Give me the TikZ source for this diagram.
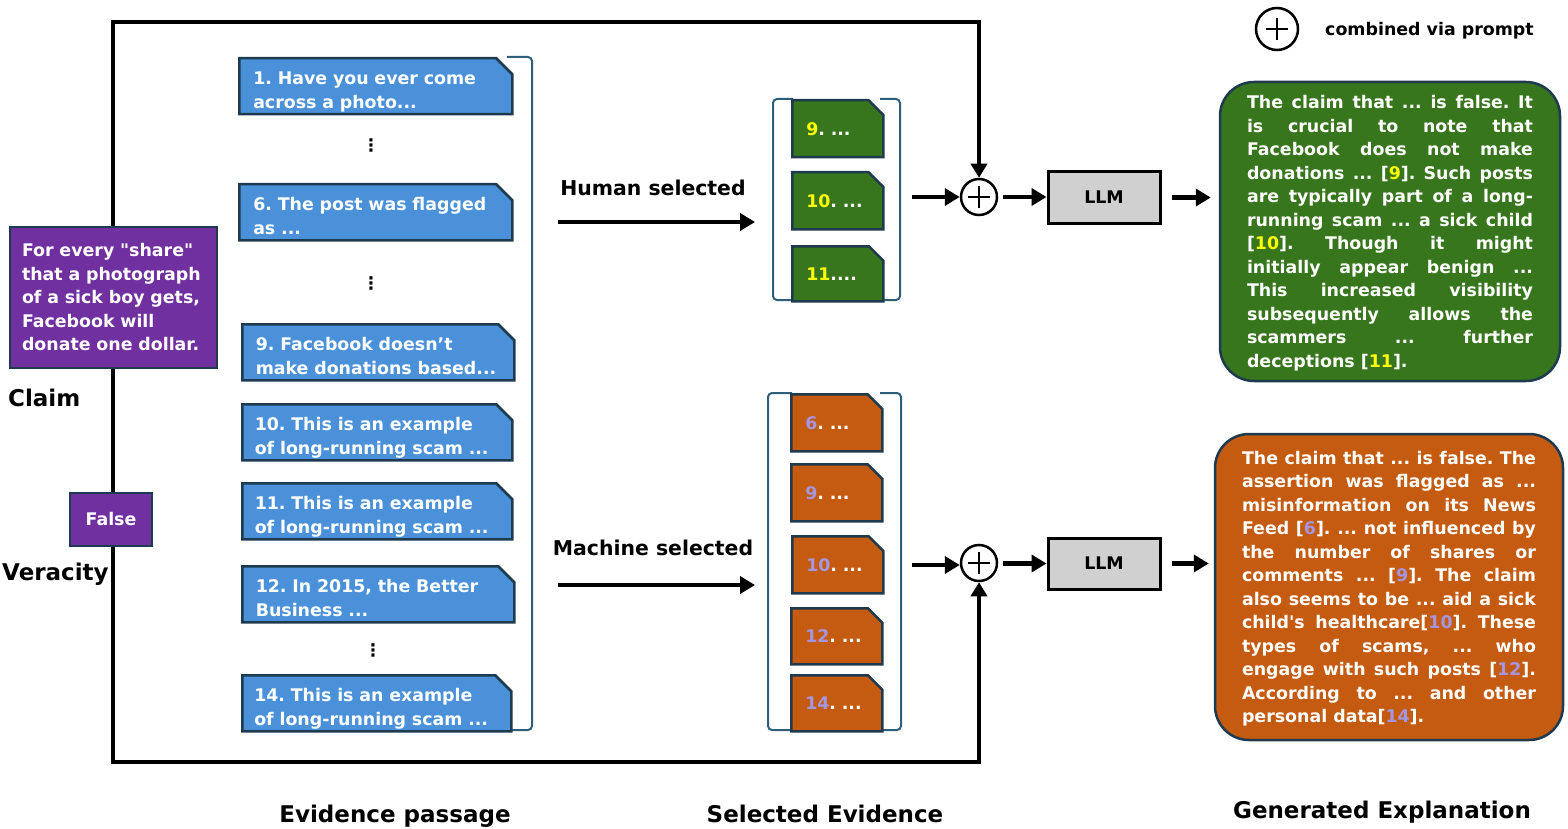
\documentclass[tikz,border=0pt]{standalone}
\usepackage{fontspec}
\setmainfont{DejaVu Sans}
\usetikzlibrary{arrows.meta,shapes.misc,positioning}

\definecolor{evblue}{RGB}{75,145,218}
\definecolor{edgedark}{RGB}{30,58,78}
\definecolor{brkblue}{RGB}{45,95,125}
\definecolor{hgreen}{RGB}{56,118,29}
\definecolor{morange}{RGB}{197,90,17}
\definecolor{claimpurple}{RGB}{112,48,160}
\definecolor{llmgray}{RGB}{208,208,208}
\definecolor{numyellow}{RGB}{255,255,0}
\definecolor{numlav}{RGB}{165,150,225}

\newcommand{\boxfont}{\fontsize{17.4pt}{23.5pt}\selectfont\bfseries}
\newcommand{\selfont}{\fontsize{20.4pt}{24pt}\selectfont\bfseries}
\newcommand{\capfont}{\fontsize{23pt}{27pt}\selectfont\bfseries}
\newcommand{\yn}[1]{\textcolor{numyellow}{#1}}
\newcommand{\lv}[1]{\textcolor{numlav}{#1}}
\newcommand{\jbreak}{\linebreak[4]}
\newcommand{\topstrut}[1]{\rule{0pt}{#1}}

\begin{document}
\begin{tikzpicture}[x=1pt,y=-1pt,
    every node/.style={font=\boxfont},
    passage/.style={chamfered rectangle, chamfered rectangle corners=north east,
      chamfered rectangle sep=8pt, fill=evblue, draw=edgedark, line width=2.5pt,
      text=white, align=left, text width=245pt, inner xsep=4pt, inner ysep=0pt,
      text height=18.5pt, text depth=21.5pt, minimum height=56pt, anchor=north west},
    chosen/.style={chamfered rectangle, chamfered rectangle corners=north east,
      chamfered rectangle sep=8pt, draw=edgedark, line width=2.5pt,
      text=white, align=left, text width=63pt, inner xsep=2pt, inner ysep=0pt,
      minimum width=91pt, anchor=north west},
    expl/.style={rounded corners=34pt, draw=edgedark, line width=2.5pt,
      text=white, align=justify, inner sep=0pt},
    llm/.style={draw=black, line width=3pt, fill=llmgray, minimum width=112pt,
      minimum height=51pt, inner sep=0pt},
    combine/.style={circle, draw=black, line width=2.5pt, minimum size=36pt, inner sep=0pt,
      path picture={\draw[line width=2.5pt]
        ([xshift=-11pt]path picture bounding box.center) -- ([xshift=11pt]path picture bounding box.center)
        ([yshift=-11pt]path picture bounding box.center) -- ([yshift=11pt]path picture bounding box.center);}},
    vdot/.style={font=\fontsize{17.4pt}{20pt}\selectfont\bfseries, inner sep=0pt},
    brk/.style={draw=brkblue, line width=2pt, rounded corners=4pt},
    arr/.style={line width=4.5pt, -{Triangle[length=15pt,width=17pt]}},
    loopline/.style={line width=4pt, {Triangle[length=14pt,width=16pt]}-{Triangle[length=14pt,width=16pt]}},
    lab/.style={font=\capfont, inner sep=0pt},
    sellab/.style={font=\selfont, inner sep=0pt},
    execute at begin node={\frenchspacing \tolerance=10000 \hyphenpenalty=10000 \hbadness=10000}]
  \useasboundingbox (0,0) rectangle (1568,829);

  % brackets round the passages
  \draw[brk] (507,57) -- (532,57) -- (532,730) -- (505,730);
  \draw[brk] (793,99) -- (773,99) -- (773,300) -- (793,300);
  \draw[brk] (880,99) -- (900,99) -- (900,300) -- (880,300);
  \draw[brk] (792,393) -- (768,393) -- (768,730) -- (792,730);
  \draw[brk] (880,393) -- (901,393) -- (901,730) -- (880,730);

  % evidence passages
  \node[passage, minimum width=273pt] (e1) at (238,57) {1. Have you ever come\\across a photo...};
  \node[vdot] (dots1) at (371,145) {⋮};
  \node[passage, minimum width=273pt] (e6) at (238,183) {6. The post was flagged\\as ...};
  \node[vdot] (dots2) at (371,283) {⋮};
  \node[passage, minimum width=272pt] (e9) at (241,323) {9. Facebook doesn’t\\make donations based...};
  \node[passage, minimum width=270pt] (e10) at (241,403) {10. This is an example\\of long-running scam ...};
  \node[passage, minimum width=270pt] (e11) at (241,482) {11. This is an example\\of long-running scam ...};
  \node[passage, minimum width=272pt] (e12) at (241,565) {12. In 2015, the Better\\Business ...};
  \node[vdot] (dots3) at (373,650) {⋮};
  \node[passage, minimum width=268pt] (e14) at (241,674) {14. This is an example\\of long-running scam ...};

  % selected evidence
  \node[chosen, fill=hgreen, minimum height=57pt] (h9) at (791,99) {\yn{9}. ...};
  \node[chosen, fill=hgreen, minimum height=57pt] (h10) at (791,171) {\yn{10}. ...};
  \node[chosen, fill=hgreen, minimum height=55pt] (h11) at (791,245) {\yn{11}....};
  \node[chosen, fill=morange, minimum height=57pt] (m6) at (790,393) {\lv{6}. ...};
  \node[chosen, fill=morange, minimum height=57pt] (m9) at (790,463) {\lv{9}. ...};
  \node[chosen, fill=morange, minimum height=57pt] (m10) at (791,535) {\lv{10}. ...};
  \node[chosen, fill=morange, minimum height=56pt] (m12) at (790,607) {\lv{12}. ...};
  \node[chosen, fill=morange, minimum height=56pt] (m14) at (790,674) {\lv{14}. ...};

  % prompt combination and loop back
  \node[combine] (plusH) at (979,197) {};
  \node[combine] (plusM) at (979,563) {};
  \coordinate (loopTL) at (113,22);
  \coordinate (loopBL) at (113,762);
  \draw[loopline] (plusH.north) |- (loopTL) -- (loopBL) -| (plusM.south);

  % claim and veracity
  \node[fill=claimpurple, draw=edgedark, line width=2pt, text=white, align=left,
    text width=183pt, minimum width=207pt, minimum height=141pt, inner xsep=12pt] (claim) at (113.5,297.5)
    {For every \textquotedbl share\textquotedbl\\that a photograph\\of a sick boy gets,\\Facebook will\\donate one dollar.};
  \node[lab, anchor=base west] (claimlab) at (8,406) {Claim};
  \node[fill=claimpurple, draw=edgedark, line width=2pt, text=white,
    minimum width=82pt, minimum height=53pt] (verdict) at (111,519.5) {False};
  \node[lab, anchor=base west] (veralab) at (2,580) {Veracity};

  % selection arrows
  \coordinate (hsA) at (558,222);
  \coordinate (hsB) at (755,222);
  \draw[arr] (hsA) -- (hsB);
  \node[sellab, anchor=base] (hslab) at (653,196) {Human selected};
  \coordinate (msA) at (558,585);
  \coordinate (msB) at (755,585);
  \draw[arr] (msA) -- (msB);
  \node[sellab, anchor=base] (mslab) at (653,555) {Machine selected};

  % LLM and explanations
  \node[llm] (llmH) at (1104,197.5) {LLM};
  \node[llm] (llmM) at (1104,563.5) {LLM};
  \coordinate (hOut) at (912,197);
  \coordinate (mOut) at (912,565);
  \draw[arr] (hOut) -- (plusH);
  \draw[arr] (mOut) -- (plusM.west |- mOut);
  \draw[arr, shorten <=5pt] (plusH) -- (llmH.west |- plusH);
  \draw[arr, shorten <=5pt] (plusM.east |- llmM) -- (llmM);

  \node[expl, fill=hgreen, minimum width=340pt, minimum height=299pt, text width=286pt] (expH) at (1390,231.5)
    {\topstrut{17pt}The claim that ... is false. It\jbreak
     is crucial to note that\jbreak
     Facebook does not make\jbreak
     donations ... [\yn{9}]. Such posts\jbreak
     are typically part of a long-\jbreak
     running scam ... a sick child\jbreak
     [\yn{10}]. Though it might\jbreak
     initially appear benign ...\jbreak
     This increased visibility\jbreak
     subsequently allows the\jbreak
     scammers ... further\jbreak
     deceptions [\yn{11}].};
  \node[expl, fill=morange, minimum width=348pt, minimum height=306pt, text width=294pt] (expM) at (1389,587)
    {\topstrut{17pt}The claim that ... is false. The\jbreak
     assertion was flagged as ...\jbreak
     misinformation on its News\jbreak
     Feed [\lv{6}]. ... not influenced by\jbreak
     the number of shares or\jbreak
     comments ... [\lv{9}]. The claim\jbreak
     also seems to be ... aid a sick\jbreak
     child\textquotesingle s healthcare[\lv{10}]. These\jbreak
     types of scams, ... who\jbreak
     engage with such posts [\lv{12}].\jbreak
     According to ... and other\jbreak
     personal data[\lv{14}].};
  \draw[arr, shorten <=10pt, shorten >=8pt] (llmH.east) -- (llmH.east -| expH.west);
  \draw[arr, shorten <=10pt, shorten >=5pt] (llmM.east) -- (llmM.east -| expM.west);

  % legend
  \node[combine, minimum size=42pt] (legplus) at (1277,29) {};
  \node[anchor=base west, inner sep=0pt] (legtext) at (1325,36) {combined via prompt};

  % column captions
  \node[lab, anchor=base] (evcap) at (395,822) {Evidence passage};
  \node[lab, anchor=base] (selcap) at (825,822) {Selected Evidence};
  \node[lab, anchor=base] (gencap) at (1382,818) {Generated Explanation};
\end{tikzpicture}
\end{document}
